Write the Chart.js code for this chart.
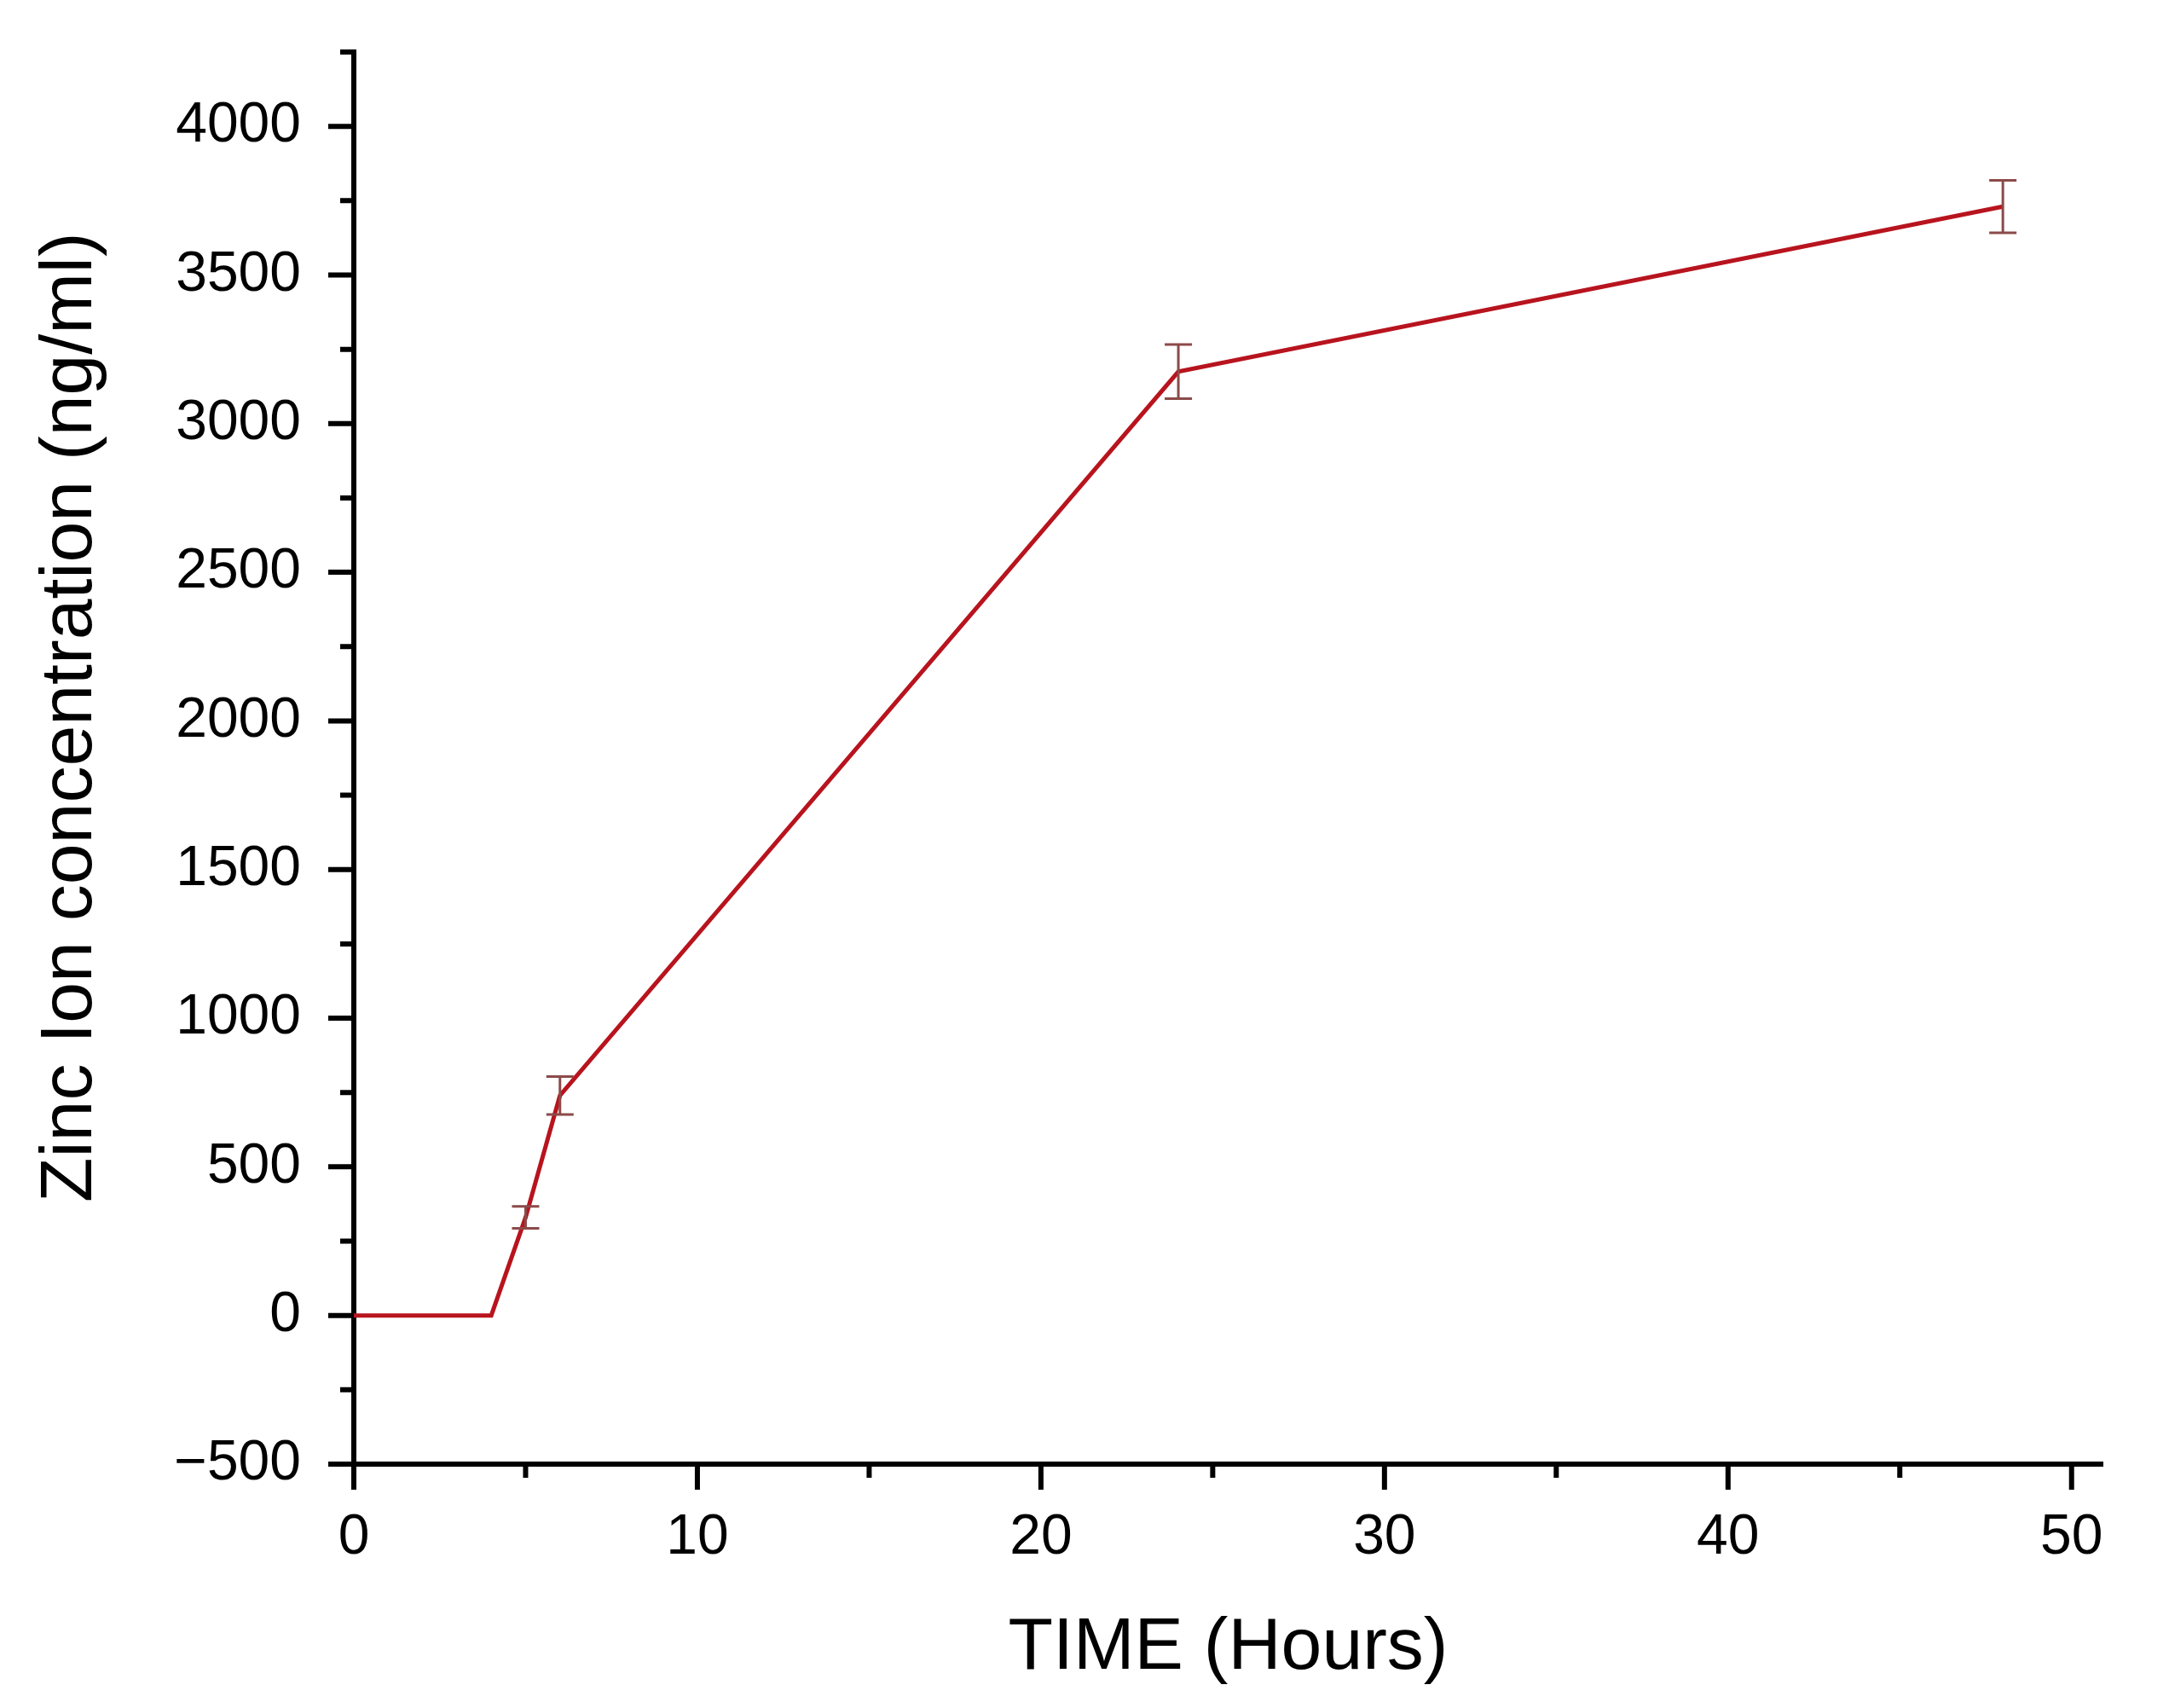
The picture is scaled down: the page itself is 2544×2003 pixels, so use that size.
<!DOCTYPE html>
<html>
<head>
<meta charset="utf-8">
<script src="https://cdn.jsdelivr.net/npm/chart.js@4/dist/chart.umd.min.js"></script>
<style>
  html, body { margin: 0; padding: 0; background: #fff; }
  #chartContainer { width: 2544px; height: 2003px; }
</style>
</head>
<body>
<div id="chartContainer"><canvas id="chartCanvas"></canvas></div>
<script>
// release time points (hours) and measured zinc ion concentration
const hours = [0, 4, 5, 6, 24, 48];
const zincConc = [0, 0, 330, 740, 3175, 3730];
const zincErr = [0, 0, 37, 64, 91, 88];

const xTitle = "TIME (Hours)";
// leading spaces nudge the centred title a little towards the top, like the original
const yTitle = "    Zinc Ion concentration (ng/ml)";

const fontFamily = "'Liberation Sans', Arial, sans-serif";

// draws error bars and the major / minor tick marks
const extrasPlugin = {
    id: "extras",
    afterDatasetsDraw(chart) {
        const ctx = chart.ctx;
        const xs = chart.scales.x;
        const ys = chart.scales.y;
        ctx.save();
        ctx.strokeStyle = "#8c4a4a";
        ctx.lineWidth = 3;
        for (let i = 0; i < hours.length; i++) {
            if (!zincErr[i]) continue;
            const px = xs.getPixelForValue(hours[i]);
            const top = ys.getPixelForValue(zincConc[i] + zincErr[i]);
            const bot = ys.getPixelForValue(zincConc[i] - zincErr[i]);
            ctx.beginPath();
            ctx.moveTo(px, top); ctx.lineTo(px, bot);
            ctx.moveTo(px - 16, top); ctx.lineTo(px + 16, top);
            ctx.moveTo(px - 16, bot); ctx.lineTo(px + 16, bot);
            ctx.stroke();
        }
        ctx.restore();
    },
    afterDraw(chart) {
        const ctx = chart.ctx;
        const xs = chart.scales.x;
        const ys = chart.scales.y;
        ctx.save();
        ctx.strokeStyle = "#000";
        ctx.lineWidth = 6;
        ctx.beginPath();
        ys.ticks.forEach(t => {
            const py = ys.getPixelForValue(t.value);
            const len = (t.value % 500 === 0) ? 30 : 16;
            ctx.moveTo(ys.right, py); ctx.lineTo(ys.right - len, py);
        });
        xs.ticks.forEach(t => {
            const px = xs.getPixelForValue(t.value);
            const len = (t.value % 10 === 0) ? 30 : 16;
            ctx.moveTo(px, xs.top); ctx.lineTo(px, xs.top + len);
        });
        ctx.stroke();
        ctx.restore();
    }
};

function createChart() {
    new Chart("chartCanvas", {
        type: "line",
        data: {
            datasets: [{
                data: hours.map((h, i) => ({ x: h, y: zincConc[i] })),
                borderColor: "#b8141e",
                borderWidth: 5,
                pointRadius: 0,
                fill: false,
                tension: 0
            }]
        },
        options: {
            responsive: true,
            maintainAspectRatio: false,
            animation: false,
            layout: { padding: { left: 0, top: 61, right: 78, bottom: 0 } },
            plugins: {
                legend: { display: false },
                tooltip: { enabled: false }
            },
            scales: {
                x: {
                    type: "linear",
                    min: 0,
                    max: 50.9,
                    afterFit: s => { s.height = 286; },
                    border: { display: true, color: "#000", width: 6 },
                    grid: { display: false, drawTicks: false },
                    ticks: {
                        stepSize: 5,
                        includeBounds: false,
                        autoSkip: false,
                        maxRotation: 0,
                        padding: 47,
                        color: "#000",
                        font: { family: fontFamily, size: 66 },
                        callback: v => (v % 10 === 0 ? String(v) : "")
                    },
                    title: {
                        display: true,
                        text: xTitle,
                        color: "#000",
                        font: { family: fontFamily, size: 86 },
                        padding: { top: 0, bottom: 18 }
                    }
                },
                y: {
                    min: -500,
                    max: 4250,
                    afterFit: s => {
                        s.width = 415;
                        s.paddingTop = 0;
                        s.paddingBottom = 0;
                    },
                    border: { display: true, color: "#000", width: 6 },
                    grid: { display: false, drawTicks: false },
                    ticks: {
                        stepSize: 250,
                        autoSkip: false,
                        padding: 62,
                        color: "#000",
                        font: { family: fontFamily, size: 66 },
                        callback: v => (v % 500 === 0 ? String(v).replace("-", "\u2212") : "")
                    },
                    title: {
                        display: true,
                        text: yTitle,
                        color: "#000",
                        font: { family: fontFamily, size: 86 },
                        padding: { top: 32, bottom: 0 }
                    }
                }
            }
        },
        plugins: [extrasPlugin]
    });
}

createChart();
</script>
</body>
</html>
